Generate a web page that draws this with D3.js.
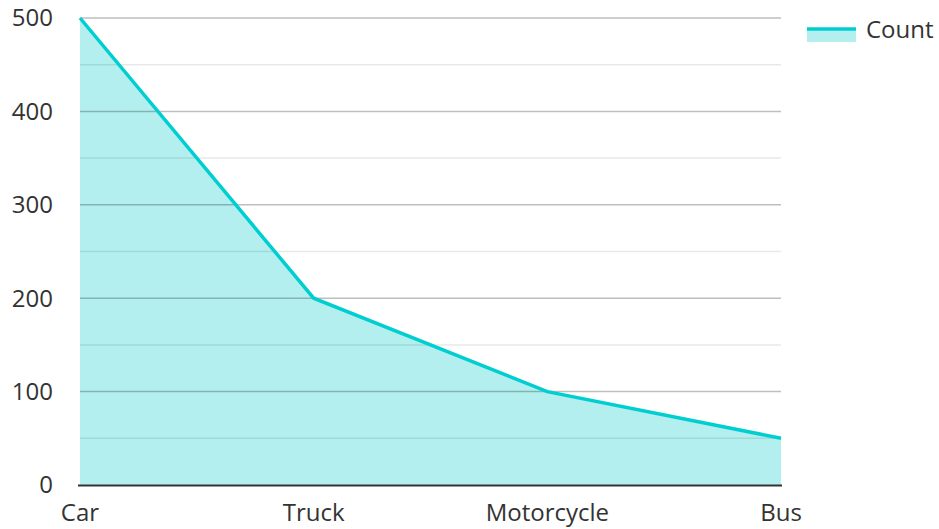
<!DOCTYPE html>
<html>
<head>
<meta charset="utf-8">
<script src="https://cdn.jsdelivr.net/npm/d3@7"></script>
<style>
  body { margin: 0; background: #fff; font-family: "Open Sans", sans-serif; }
</style>
</head>
<body>
<svg id="chart" width="939" height="529"></svg>
<script>
const categories = ['Car', 'Truck', 'Motorcycle', 'Bus'];
const counts = [500, 200, 100, 50];
const yTicks = [0, 100, 200, 300, 400, 500];
const minorTicks = [50, 150, 250, 350, 450];
const seriesName = 'Count';

const svg = d3.select('#chart');
const plotLeft = 80, plotRight = 781, plotTop = 18, plotBottom = 485;
const lineColor = '#00CED1';
const fillColor = '#B2EFEE';

const x = d3.scalePoint().domain(categories).range([plotLeft, plotRight]);
const y = d3.scaleLinear().domain([0, 500]).range([plotBottom, plotTop]);

const data = categories.map((c, i) => ({ cat: c, value: counts[i] }));

// area first, gridlines drawn over it (as in reference)
svg.append('path')
  .attr('d', d3.area().x(d => x(d.cat)).y0(y(0)).y1(d => y(d.value))(data))
  .attr('fill', fillColor);

svg.selectAll('line.minor')
  .data(minorTicks)
  .enter()
  .append('line')
  .attr('x1', plotLeft).attr('x2', plotRight)
  .attr('y1', d => y(d)).attr('y2', d => y(d))
  .attr('stroke', 'rgba(0,0,0,0.09)')
  .attr('stroke-width', 1.5);

svg.selectAll('line.major')
  .data(yTicks.filter(d => d > 0))
  .enter()
  .append('line')
  .attr('x1', plotLeft).attr('x2', plotRight)
  .attr('y1', d => y(d)).attr('y2', d => y(d))
  .attr('stroke', 'rgba(0,0,0,0.25)')
  .attr('stroke-width', 1.5);

svg.append('path')
  .attr('d', d3.line().x(d => x(d.cat)).y(d => y(d.value))(data))
  .attr('fill', 'none')
  .attr('stroke', lineColor)
  .attr('stroke-width', 3.5);

// baseline
svg.append('line')
  .attr('x1', plotLeft - 2).attr('x2', plotRight + 1)
  .attr('y1', y(0) + 0.5).attr('y2', y(0) + 0.5)
  .attr('stroke', '#333')
  .attr('stroke-width', 2);

svg.selectAll('text.ytick')
  .data(yTicks)
  .enter()
  .append('text')
  .attr('x', 53)
  .attr('y', d => y(d))
  .attr('dy', '0.35em')
  .attr('text-anchor', 'end')
  .attr('font-size', 24)
  .attr('fill', '#333')
  .text(d => d);

svg.selectAll('text.xtick')
  .data(categories)
  .enter()
  .append('text')
  .attr('x', d => x(d))
  .attr('y', 513)
  .attr('dy', '0.35em')
  .attr('text-anchor', 'middle')
  .attr('font-size', 24)
  .attr('fill', '#333')
  .text(d => d);

// legend
const lg = svg.append('g').attr('transform', 'translate(807,29)');
lg.append('rect').attr('x', 0).attr('y', 0).attr('width', 49).attr('height', 13).attr('fill', fillColor);
lg.append('line').attr('x1', 0).attr('x2', 49).attr('y1', 0).attr('y2', 0)
  .attr('stroke', lineColor).attr('stroke-width', 3.5);
lg.append('text').attr('x', 59).attr('y', 1).attr('dy', '0.35em')
  .attr('font-size', 24).attr('fill', '#333').text(seriesName);
</script>
</body>
</html>
